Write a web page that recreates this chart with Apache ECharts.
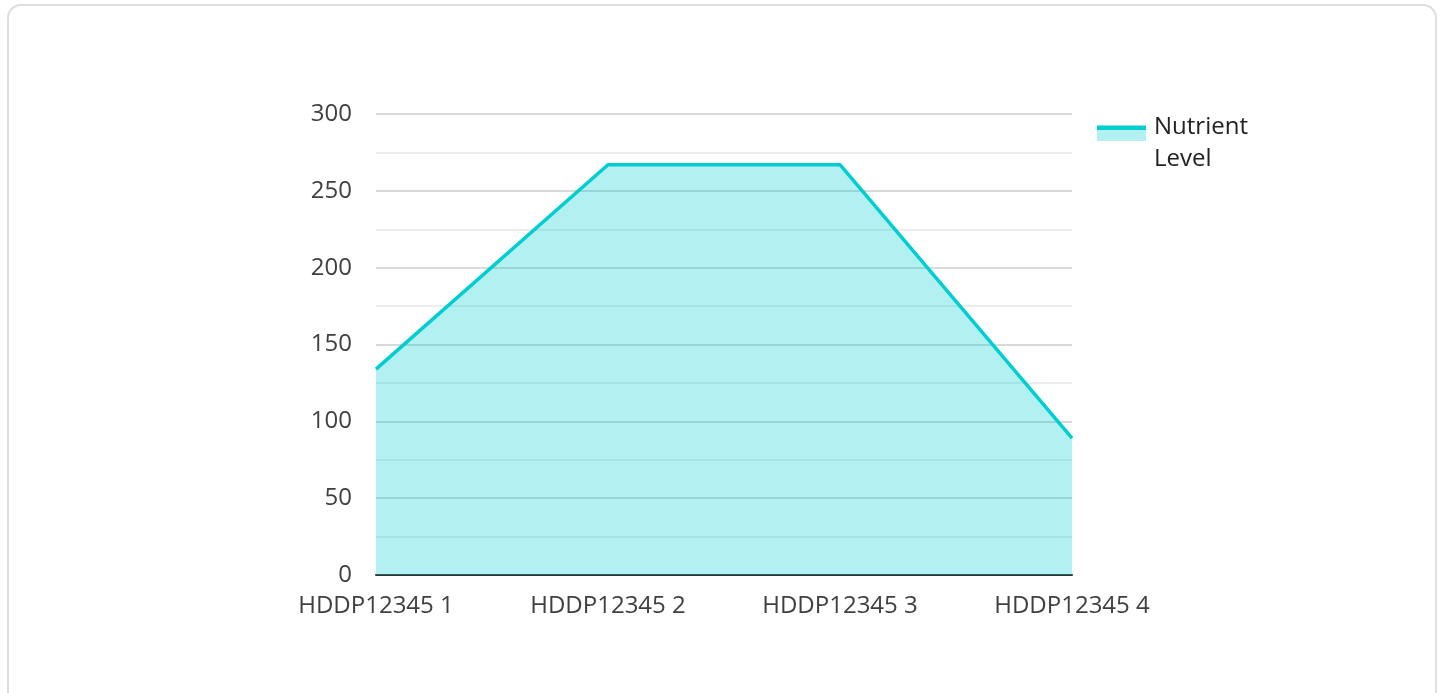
<!DOCTYPE html>
<html>
<head>
<meta charset="utf-8">
<script src="https://cdn.jsdelivr.net/npm/echarts@6/dist/echarts.min.js"></script>
<style>
  html, body { margin: 0; padding: 0; background: #fff; }
  #card {
    position: absolute; left: 7px; top: 4px; width: 1426px; height: 720px;
    border: 2px solid #dedede; border-radius: 14px;
  }
  #chartDom { position: absolute; left: 0; top: 0; width: 1442px; height: 693px; }
</style>
</head>
<body>
<div id="card"></div>
<div id="chartDom"></div>
<script>
const categories = ['HDDP12345 1', 'HDDP12345 2', 'HDDP12345 3', 'HDDP12345 4'];
const nutrientLevel = [134, 267, 267, 89];
const seriesName = 'Nutrient Level';

const mainColor = '#00CED1';
const fontFamily = '"Open Sans", "Noto Sans", sans-serif';

// legend icon: cyan stripe on top of a light block, in the upper part of the item
const iconStops = [
  { offset: 0, color: mainColor },
  { offset: 0.115, color: mainColor },
  { offset: 0.115, color: '#b2f0f1' },
  { offset: 0.43, color: '#b2f0f1' },
  { offset: 0.43, color: 'rgba(255,255,255,0)' },
  { offset: 1, color: 'rgba(255,255,255,0)' }
];

const chart = echarts.init(document.getElementById('chartDom'));
chart.setOption({
  animation: false,
  grid: { left: 376, right: 370, top: 114, bottom: 118 },
  legend: {
    left: 1097,
    top: 110,
    padding: 0,
    itemWidth: 49,
    itemHeight: 35,
    icon: 'rect',
    itemStyle: {
      color: { type: 'linear', x: 0, y: 0, x2: 0, y2: 1, colorStops: iconStops }
    },
    textStyle: {
      fontFamily,
      fontSize: 24,
      color: '#222',
      width: 110,
      overflow: 'break',
      lineHeight: 32,
      padding: [2, 0, 0, 3]
    },
    data: [seriesName]
  },
  xAxis: {
    type: 'category',
    data: categories,
    boundaryGap: false,
    axisLine: { lineStyle: { color: '#333', width: 2 } },
    axisTick: { show: false },
    axisLabel: { fontFamily, fontSize: 24, color: '#404040', margin: 19 }
  },
  yAxis: {
    type: 'value',
    min: 0,
    max: 300,
    interval: 50,
    axisLine: { show: false },
    axisTick: { show: false },
    axisLabel: { fontFamily, fontSize: 24, color: '#404040', margin: 24, padding: [4, 0, 0, 0] },
    splitLine: { lineStyle: { color: '#cccccc', width: 1.5 } },
    minorTick: { show: false, splitNumber: 2 },
    minorSplitLine: { show: true, lineStyle: { color: '#e8e8e8', width: 1.5 } }
  },
  series: [{
    name: seriesName,
    type: 'line',
    data: nutrientLevel,
    symbol: 'none',
    lineStyle: { color: mainColor, width: 3.5 },
    itemStyle: { color: mainColor },
    areaStyle: { color: mainColor, opacity: 0.3 }
  }]
});
</script>
</body>
</html>
